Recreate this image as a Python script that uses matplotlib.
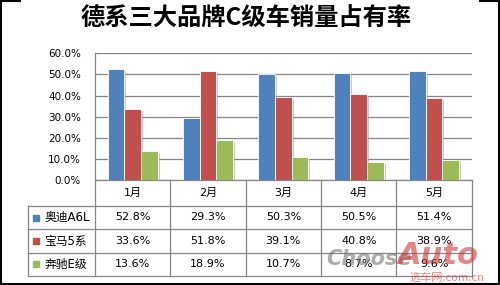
import matplotlib
matplotlib.use('Agg')
import matplotlib.pyplot as plt
import matplotlib.patheffects as pe
from matplotlib.lines import Line2D
from matplotlib.patches import Rectangle
import numpy as np

plt.rcParams['font.family'] = ['DejaVu Sans', 'Noto Sans CJK SC']

months = ['1月', '2月', '3月', '4月', '5月']
brands = ['奥迪A6L', '宝马5系', '奔驰E级']
audi = [52.8, 29.3, 50.3, 50.5, 51.4]
bmw = [33.6, 51.8, 39.1, 40.8, 38.9]
benz = [13.6, 18.9, 10.7, 8.7, 9.6]
series = [audi, bmw, benz]
colors = ['#4F81BD', '#C0504D', '#9BBB59']
grid_c = '#868686'

W, H = 500, 285
fig = plt.figure(figsize=(5, 2.85), dpi=100)

def fx(px):
    return px / W

def fy(py):
    return 1 - py / H

# plot area in pixel coords
x0, x1 = 95, 471.7
y_top, y_bot = 53.3, 180
tab_left, tab_bot = 28.3, 276

ax = fig.add_axes([fx(x0), fy(y_bot), fx(x1 - x0), (y_bot - y_top) / H])
n = len(months)
xc = np.arange(n) + 0.5
bw = 0.221
shadow = [pe.SimplePatchShadow(offset=(1.5, -1.5), shadow_rgbFace='#999999', alpha=0.5), pe.Normal()]
for k, (vals, c) in enumerate(zip(series, colors)):
    bars = ax.bar(xc + (k - 1) * bw, np.array(vals) / 100, bw, color=c,
                  edgecolor='white', linewidth=0.6, zorder=3)
    for b in bars:
        b.set_path_effects(shadow)

ax.set_xlim(0, n)
ax.set_ylim(0, 0.6)
ax.set_yticks(np.arange(0, 0.61, 0.1))
ax.set_yticklabels([f'{v*100:.1f}%' for v in np.arange(0, 0.61, 0.1)], fontsize=7.5)
ax.set_xticks([])
ax.tick_params(axis='y', length=0, pad=10)
ax.grid(axis='y', color=grid_c, linewidth=0.9, zorder=0)
for s in ['top', 'right']:
    ax.spines[s].set_visible(False)
for s in ['left', 'bottom']:
    ax.spines[s].set_color(grid_c)
    ax.spines[s].set_linewidth(0.9)

# data table under the plot
tax = fig.add_axes([fx(tab_left), fy(tab_bot), fx(x1 - tab_left), (tab_bot - y_bot) / H])
col_w = (x1 - x0) / n
lab_w = (x0 - tab_left) / col_w
tax.set_xlim(-lab_w, n)
rows_px = [180, 205.7, 229.3, 252.7, 276]
tax.set_ylim(276, 180)
tax.axis('off')
lk = dict(color=grid_c, linewidth=0.9, clip_on=False)
for i, yy in enumerate(rows_px):
    if i == 0:
        continue
    tax.plot([-lab_w, n], [yy, yy], **lk)
tax.plot([-lab_w, -lab_w], [rows_px[1], rows_px[-1]], **lk)
for j in range(n + 1):
    tax.plot([j, j], [rows_px[0], rows_px[-1]], **lk)

for j, m in enumerate(months):
    tax.text(j + 0.5, (rows_px[0] + rows_px[1]) / 2, m, ha='center', va='center', fontsize=8)
for r, (name, vals, c) in enumerate(zip(brands, series, colors)):
    yc = (rows_px[r + 1] + rows_px[r + 2]) / 2
    tax.add_patch(Rectangle((-lab_w + 5 / col_w, yc - 3), 6 / col_w, 6, color=c, clip_on=False))
    tax.text(-lab_w + 16 / col_w, yc, name, ha='left', va='center', fontsize=8.5)
    for j, v in enumerate(vals):
        tax.text(j + 0.5, yc, f'{v:.1f}%', ha='center', va='center', fontsize=8, zorder=5)

# title
fig.text(fx(246), fy(18.5), '德系三大品牌C级车销量占有率', ha='center', va='center',
         fontsize=17.5, fontweight='bold', family=['Noto Sans CJK SC', 'DejaVu Sans'])

# outer frame (top broken by title)
fl = dict(color='black', linewidth=1.5, transform=fig.transFigure)
fig.add_artist(Line2D([fx(1), fx(1)], [fy(0), fy(283.5)], **fl))
fig.add_artist(Line2D([fx(498.5), fx(498.5)], [fy(0), fy(283.5)], **fl))
fig.add_artist(Line2D([fx(1), fx(498.5)], [fy(283.5), fy(283.5)], **fl))
fig.add_artist(Line2D([fx(1), fx(20)], [fy(0.8), fy(0.8)], **fl))
fig.add_artist(Line2D([fx(480), fx(498.5)], [fy(0.8), fy(0.8)], **fl))

# watermark
fig.text(fx(326), fy(259), 'Choose', ha='left', va='center', fontsize=15, fontweight='bold',
         style='italic', color='#777777', alpha=0.6)
fig.text(fx(398), fy(256), 'Auto', ha='left', va='center', fontsize=22, fontweight='bold',
         style='italic', color='#D03838', alpha=0.6)
fig.text(fx(410), fy(277), '选车网.com.cn', ha='left', va='center', fontsize=8,
         color='#D03838', alpha=0.6, family=['Noto Sans CJK SC', 'DejaVu Sans'])

fig.savefig('out.png', dpi=100)
